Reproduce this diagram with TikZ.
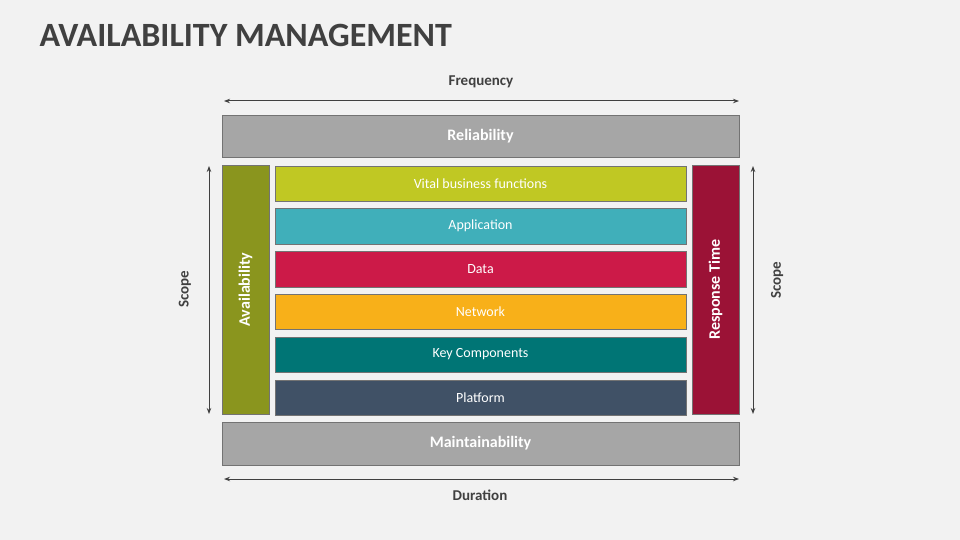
\documentclass[tikz,border=0pt]{standalone}
\usepackage{fontspec}
\setmainfont{Carlito}
\usetikzlibrary{arrows.meta}
\definecolor{bg}{HTML}{F2F2F2}
\definecolor{tt}{HTML}{404040}
\definecolor{gr}{HTML}{A6A6A6}
\definecolor{c1}{HTML}{C0C823}
\definecolor{c2}{HTML}{40AFBA}
\definecolor{c3}{HTML}{CC1A48}
\definecolor{c4}{HTML}{F8B019}
\definecolor{c5}{HTML}{007575}
\definecolor{c6}{HTML}{405166}
\definecolor{av}{HTML}{8A951E}
\definecolor{rt}{HTML}{9B1236}
\tikzset{x=1pt,y=-1pt,
 box/.style={draw=black!55,line width=0.8pt,text=white,font=\bfseries\fontsize{16}{18}\selectfont},
 bar/.style={draw=black!55,line width=0.8pt,text=white,font=\fontsize{14}{16}\selectfont},
 lab/.style={text=tt,font=\bfseries\fontsize{15}{17}\selectfont},
 arr/.style={{Stealth[length=6pt]}-{Stealth[length=6pt]},draw=tt,line width=1pt}}
\begin{document}
\begin{tikzpicture}
\fill[bg] (0,0) rectangle (960,540);
\useasboundingbox (0,0) rectangle (960,540);
\node[anchor=west,text=tt,font=\bfseries\fontsize{34}{36}\selectfont] (title) at (36,35) {AVAILABILITY MANAGEMENT};
\newcommand\bx[6]{\filldraw[#6,draw=black!55,line width=0.8pt] (#1,#2) rectangle (#3,#4) node[midway] (#5) {};}
\bx{222}{115}{739}{157}{rel}{gr}
\bx{222}{422}{739}{465}{mai}{gr}
\bx{222}{165}{269}{414}{ava}{av}
\bx{692}{165}{739}{414}{res}{rt}
\bx{275}{166}{686}{201}{b1}{c1}
\bx{275}{208}{686}{244}{b2}{c2}
\bx{275}{251}{686}{287}{b3}{c3}
\bx{275}{294}{686}{329}{b4}{c4}
\bx{275}{337}{686}{372}{b5}{c5}
\bx{275}{380}{686}{415}{b6}{c6}
\node[box,draw=none] at (rel) {Reliability};
\node[box,draw=none] at (mai) {Maintainability};
\node[box,draw=none,rotate=90] at (ava) {Availability};
\node[box,draw=none,rotate=90] at (res) {Response Time};
\node[bar,draw=none] at (b1) {Vital business functions};
\node[bar,draw=none] at (b2) {Application};
\node[bar,draw=none] at (b3) {Data};
\node[bar,draw=none] at (b4) {Network};
\node[bar,draw=none] at (b5) {Key Components};
\node[bar,draw=none] at (b6) {Platform};
\coordinate (f1) at (224,101); \coordinate (f2) at (739,101);
\coordinate (d1) at (224,479); \coordinate (d2) at (739,479);
\coordinate (l1) at (209,166); \coordinate (l2) at (209,414);
\coordinate (r1) at (753,166); \coordinate (r2) at (753,414);
\draw[arr] (f1) -- (f2); \draw[arr] (d1) -- (d2);
\draw[arr] (l1) -- (l2); \draw[arr] (r1) -- (r2);
\node[lab] (fq) at (481,82) {Frequency};
\node[lab] (du) at (480,495) {Duration};
\node[lab,rotate=90] (s1) at (185,289) {Scope};
\node[lab,rotate=90] (s2) at (777,280) {Scope};
\end{tikzpicture}
\end{document}
